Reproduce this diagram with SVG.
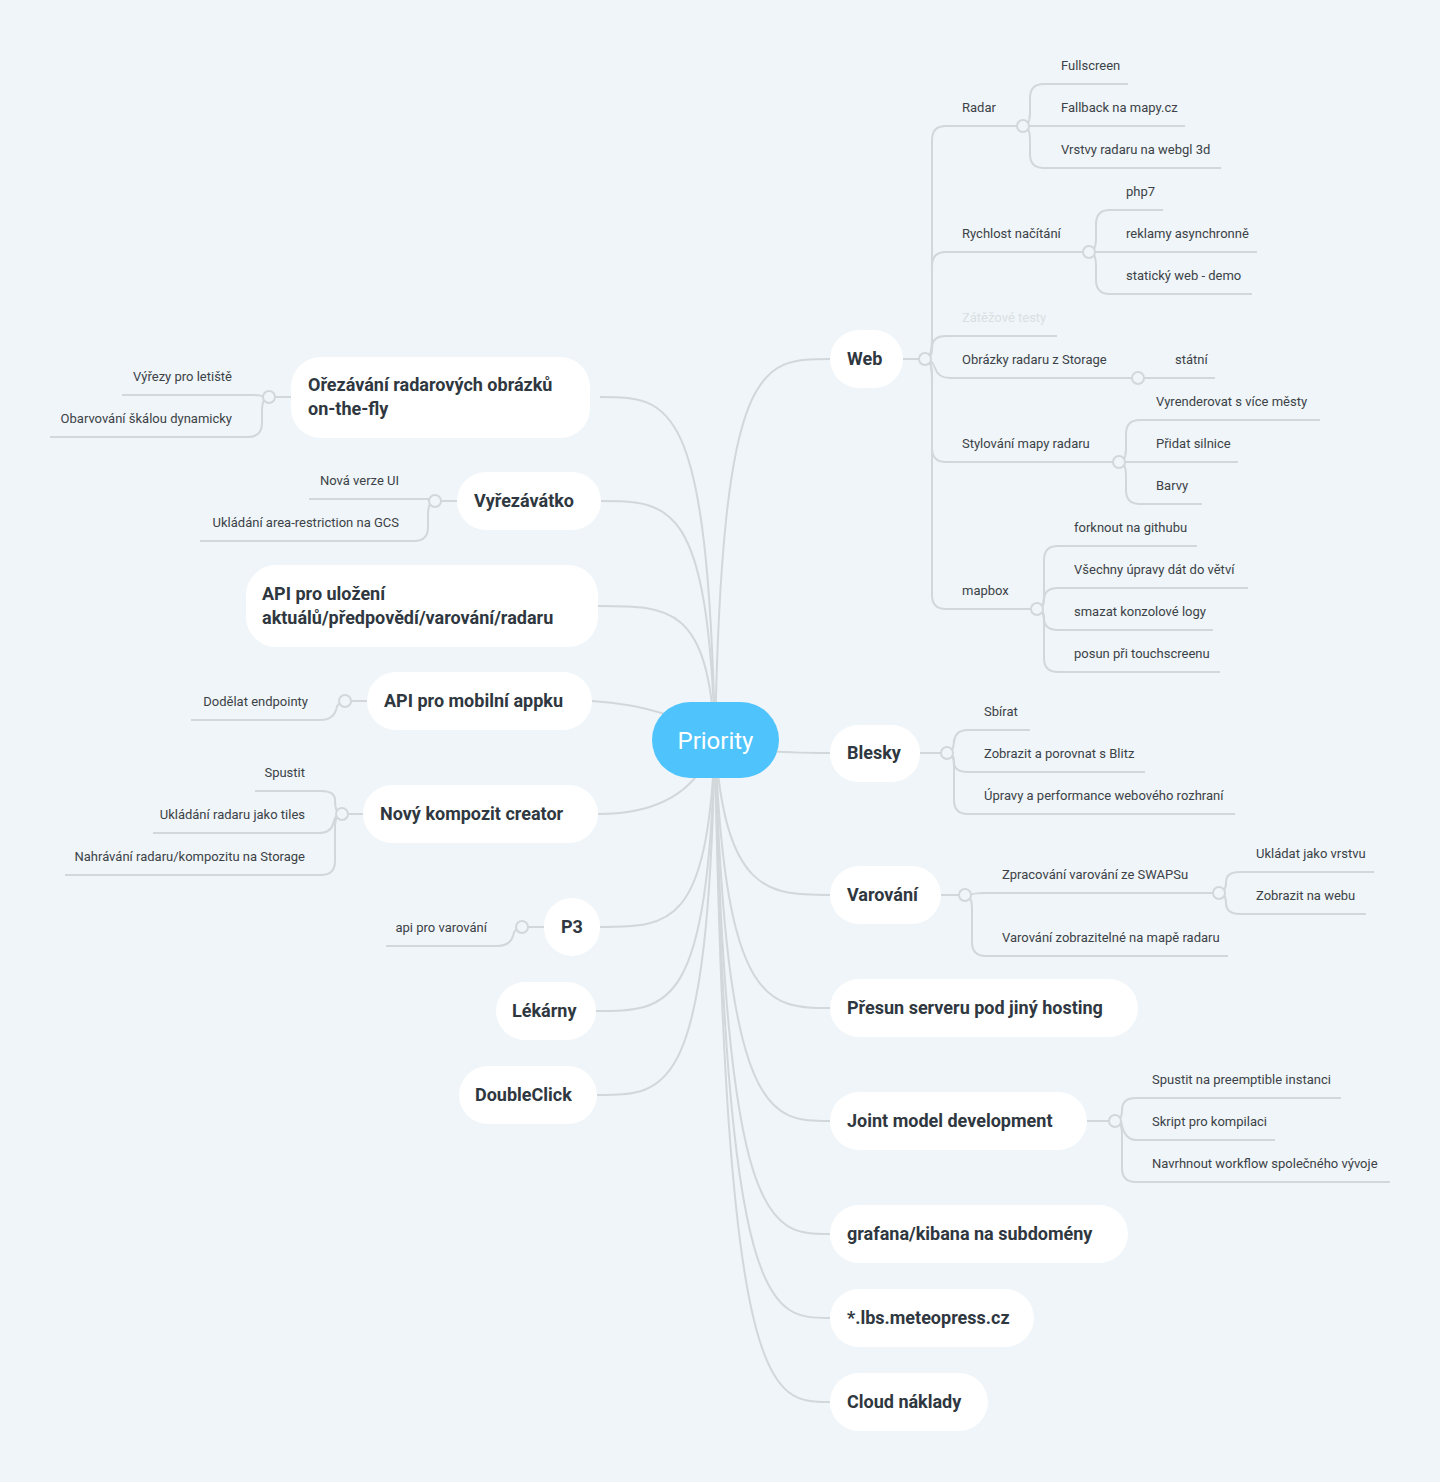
<svg xmlns="http://www.w3.org/2000/svg" width="1440" height="1482" viewBox="0 0 1440 1482">
<style>
.bg{fill:#eff5f8}
.n{fill:#fff}
.t{font-family:Roboto,"Liberation Sans",sans-serif;font-weight:bold;font-size:18px;fill:#2f3740}
.s{font-family:Roboto,"Liberation Sans",sans-serif;font-size:13px;fill:#3c4247}
.e{text-anchor:end}
.c path{fill:none;stroke:#d2d7da;stroke-width:2}
.c circle{fill:#eff5f8;stroke:#d2d7da;stroke-width:2}
</style>
<rect class="bg" width="1440" height="1482"/>
<g class="c" id="connectors">
<!-- center to right main -->
<path d="M715 740 C722 359 760 359 830 359"/>
<path d="M715 740 C740 750 770 753 830 753"/>
<path d="M715 740 C725 895 770 895 830 895"/>
<path d="M715 740 C725 1008 770 1008 830 1008"/>
<path d="M715 740 C725 1121 770 1121 830 1121"/>
<path d="M715 740 C725 1234 770 1234 830 1234"/>
<path d="M715 740 C725 1318 770 1318 830 1318"/>
<path d="M715 740 C725 1402 770 1402 830 1402"/>
<!-- center to left main -->
<path d="M715 740 C708 397 670 397 600 397"/>
<path d="M715 740 C708 501 670 501 600 501"/>
<path d="M715 740 C708 606 670 606 598 606"/>
<path d="M715 740 C690 720 650 705 592 701"/>
<path d="M715 740 C700 790 660 814 598 814"/>
<path d="M715 740 C708 927 670 927 600 927"/>
<path d="M715 740 C708 1011 670 1011 596 1011"/>
<path d="M715 740 C708 1095 670 1095 597 1095"/>
<!-- Web -->
<path d="M903 359 H919"/>
<path d="M925 359 Q932 359 932 340 V140 Q932 126 946 126 H1017"/>
<path d="M925 359 Q932 359 932 340 V266 Q932 252 946 252 H1083"/>
<path d="M925 359 Q932 359 932 348 Q932 336 946 336 H1057"/>
<path d="M925 359 Q932 359 935 368 Q938 378 950 378 H1132"/>
<path d="M925 359 Q932 359 932 378 V448 Q932 462 946 462 H1113"/>
<path d="M925 359 Q932 359 932 378 V595 Q932 609 946 609 H1031"/>
<path d="M1023 126 Q1030 126 1030 112 V98 Q1030 84 1044 84 H1128"/>
<path d="M1029 126 H1185"/>
<path d="M1023 126 Q1030 126 1030 140 V154 Q1030 168 1044 168 H1221"/>
<path d="M1089 252 Q1096 252 1096 238 V224 Q1096 210 1110 210 H1163"/>
<path d="M1095 252 H1257"/>
<path d="M1089 252 Q1096 252 1096 266 V280 Q1096 294 1110 294 H1252"/>
<path d="M1144 378 H1215"/>
<path d="M1119 462 Q1126 462 1126 448 V434 Q1126 420 1140 420 H1320"/>
<path d="M1125 462 H1238"/>
<path d="M1119 462 Q1126 462 1126 476 V490 Q1126 504 1140 504 H1202"/>
<path d="M1037 609 Q1044 609 1044 595 V560 Q1044 546 1058 546 H1197"/>
<path d="M1037 609 Q1044 609 1044 600 Q1044 588 1058 588 H1248"/>
<path d="M1037 609 Q1044 609 1044 618 Q1044 630 1058 630 H1213"/>
<path d="M1037 609 Q1044 609 1044 623 V658 Q1044 672 1058 672 H1220"/>
<circle cx="925" cy="359" r="6"/><circle cx="1023" cy="126" r="6"/><circle cx="1089" cy="252" r="6"/><circle cx="1138" cy="378" r="6"/><circle cx="1119" cy="462" r="6"/><circle cx="1037" cy="609" r="6"/>
<!-- Blesky -->
<path d="M920 753 H941"/>
<path d="M947 753 Q954 753 954 739 V744 Q954 730 968 730 H1030"/>
<path d="M947 753 Q954 753 954 762 Q954 772 968 772 H1145"/>
<path d="M947 753 Q954 753 954 767 V800 Q954 814 968 814 H1235"/>
<circle cx="947" cy="753" r="6"/>
<!-- Varování -->
<path d="M941 895 H959"/>
<path d="M971 895 Q972 893 986 893 H1213"/>
<path d="M965 895 Q972 895 972 909 V942 Q972 956 986 956 H1228"/>
<path d="M1219 893 Q1226 893 1226 882 Q1226 872 1240 872 H1374"/>
<path d="M1219 893 Q1226 893 1226 903 Q1226 914 1240 914 H1366"/>
<circle cx="965" cy="895" r="6"/><circle cx="1219" cy="893" r="6"/>
<!-- Joint -->
<path d="M1087 1121 H1109"/>
<path d="M1115 1121 Q1122 1121 1122 1110 Q1122 1098 1136 1098 H1341"/>
<path d="M1121 1121 Q1124 1140 1136 1140 H1275"/>
<path d="M1115 1121 Q1122 1121 1122 1135 V1168 Q1122 1182 1136 1182 H1390"/>
<circle cx="1115" cy="1121" r="6"/>
<!-- Left: Ořezávání -->
<path d="M291 397 H275"/>
<path d="M269 397 Q262 397 262 396 Q262 395 250 395 H122"/>
<path d="M269 397 Q262 397 262 411 V423 Q262 437 248 437 H50"/>
<circle cx="269" cy="397" r="6"/>
<!-- Vyřezávátko -->
<path d="M457 501 H441"/>
<path d="M435 501 Q428 501 428 499 H309"/>
<path d="M435 501 Q428 501 428 515 V527 Q428 541 414 541 H200"/>
<circle cx="435" cy="501" r="6"/>
<!-- API mobilní -->
<path d="M367 701 H351"/>
<path d="M345 701 Q338 701 336 710 Q333 720 320 720 H191"/>
<circle cx="345" cy="701" r="6"/>
<!-- Nový kompozit -->
<path d="M363 814 H348"/>
<path d="M342 814 Q335 814 335 800 Q335 791 321 791 H255"/>
<path d="M342 814 Q335 814 333 824 Q331 833 318 833 H153"/>
<path d="M342 814 Q335 814 335 828 V861 Q335 875 321 875 H65"/>
<circle cx="342" cy="814" r="6"/>
<!-- P3 -->
<path d="M544 927 H528"/>
<path d="M522 927 Q515 927 513 936 Q510 946 497 946 H386"/>
<circle cx="522" cy="927" r="6"/>
</g>
<g id="priority"><rect x="652" y="702" width="127" height="76" rx="38" fill="#4fc3fc"/><text x="715.5" y="749" text-anchor="middle" font-family="Roboto,'Liberation Sans',sans-serif" font-size="24" fill="#fff">Priority</text></g>
<g id="web"><rect class="n" x="830" y="330" width="73" height="58" rx="29"/><text class="t" x="847" y="365">Web</text></g>
<g id="blesky"><rect class="n" x="830" y="725" width="90" height="57" rx="28"/><text class="t" x="847" y="759">Blesky</text></g>
<g id="varovani"><rect class="n" x="830" y="866" width="111" height="58" rx="29"/><text class="t" x="847" y="901">Varování</text></g>
<g id="presun"><rect class="n" x="830" y="979" width="308" height="58" rx="29"/><text class="t" x="847" y="1014">Přesun serveru pod jiný hosting</text></g>
<g id="joint"><rect class="n" x="830" y="1092" width="257" height="58" rx="29"/><text class="t" x="847" y="1127">Joint model development</text></g>
<g id="grafana"><rect class="n" x="830" y="1205" width="298" height="58" rx="29"/><text class="t" x="847" y="1240">grafana/kibana na subdomény</text></g>
<g id="lbs"><rect class="n" x="830" y="1289" width="204" height="58" rx="29"/><text class="t" x="847" y="1324">*.lbs.meteopress.cz</text></g>
<g id="cloud"><rect class="n" x="830" y="1373" width="158" height="58" rx="29"/><text class="t" x="847" y="1408">Cloud náklady</text></g>
<g id="orezavani"><rect class="n" x="291" y="357" width="299" height="81" rx="30"/><text class="t" x="308" y="391">Ořezávání radarových obrázků</text><text class="t" x="308" y="415">on-the-fly</text></g>
<g id="vyrezavatko"><rect class="n" x="457" y="472" width="144" height="58" rx="29"/><text class="t" x="474" y="507">Vyřezávátko</text></g>
<g id="apiulozeni"><rect class="n" x="246" y="565" width="352" height="82" rx="30"/><text class="t" x="262" y="600">API pro uložení</text><text class="t" x="262" y="624">aktuálů/předpovědí/varování/radaru</text></g>
<g id="apimobil"><rect class="n" x="367" y="672" width="225" height="58" rx="29"/><text class="t" x="384" y="707">API pro mobilní appku</text></g>
<g id="kompozit"><rect class="n" x="363" y="785" width="235" height="58" rx="29"/><text class="t" x="380" y="820">Nový kompozit creator</text></g>
<g id="p3"><rect class="n" x="544" y="898" width="56" height="58" rx="28"/><text class="t" x="561" y="933">P3</text></g>
<g id="lekarny"><rect class="n" x="496" y="982" width="100" height="58" rx="29"/><text class="t" x="512" y="1017">Lékárny</text></g>
<g id="doubleclick"><rect class="n" x="459" y="1066" width="138" height="58" rx="29"/><text class="t" x="475" y="1101">DoubleClick</text></g>
<g id="subtopics">
<text class="s" x="962" y="112">Radar</text>
<text class="s" x="1061" y="70">Fullscreen</text>
<text class="s" x="1061" y="112">Fallback na mapy.cz</text>
<text class="s" x="1061" y="154">Vrstvy radaru na webgl 3d</text>
<text class="s" x="962" y="238">Rychlost načítání</text>
<text class="s" x="1126" y="196">php7</text>
<text class="s" x="1126" y="238">reklamy asynchronně</text>
<text class="s" x="1126" y="280">statický web - demo</text>
<text class="s" x="962" y="322" style="fill:#d9dfe3">Zátěžové testy</text>
<text class="s" x="962" y="364">Obrázky radaru z Storage</text>
<text class="s" x="1175" y="364">státní</text>
<text class="s" x="962" y="448">Stylování mapy radaru</text>
<text class="s" x="1156" y="406">Vyrenderovat s více městy</text>
<text class="s" x="1156" y="448">Přidat silnice</text>
<text class="s" x="1156" y="490">Barvy</text>
<text class="s" x="962" y="595">mapbox</text>
<text class="s" x="1074" y="532">forknout na githubu</text>
<text class="s" x="1074" y="574">Všechny úpravy dát do větví</text>
<text class="s" x="1074" y="616">smazat konzolové logy</text>
<text class="s" x="1074" y="658">posun při touchscreenu</text>
<text class="s" x="984" y="716">Sbírat</text>
<text class="s" x="984" y="758">Zobrazit a porovnat s Blitz</text>
<text class="s" x="984" y="800">Úpravy a performance webového rozhraní</text>
<text class="s" x="1002" y="879">Zpracování varování ze SWAPSu</text>
<text class="s" x="1002" y="942">Varování zobrazitelné na mapě radaru</text>
<text class="s" x="1256" y="858">Ukládat jako vrstvu</text>
<text class="s" x="1256" y="900">Zobrazit na webu</text>
<text class="s" x="1152" y="1084">Spustit na preemptible instanci</text>
<text class="s" x="1152" y="1126">Skript pro kompilaci</text>
<text class="s" x="1152" y="1168">Navrhnout workflow společného vývoje</text>
<text class="s e" x="232" y="381">Výřezy pro letiště</text>
<text class="s e" x="232" y="423">Obarvování  škálou dynamicky</text>
<text class="s e" x="399" y="485">Nová verze UI</text>
<text class="s e" x="399" y="527">Ukládání area-restriction na GCS</text>
<text class="s e" x="308" y="706">Dodělat endpointy</text>
<text class="s e" x="305" y="777">Spustit</text>
<text class="s e" x="305" y="819">Ukládání radaru jako tiles</text>
<text class="s e" x="305" y="861">Nahrávání radaru/kompozitu na Storage</text>
<text class="s e" x="487" y="932">api pro varování</text>
</g>
</svg>
